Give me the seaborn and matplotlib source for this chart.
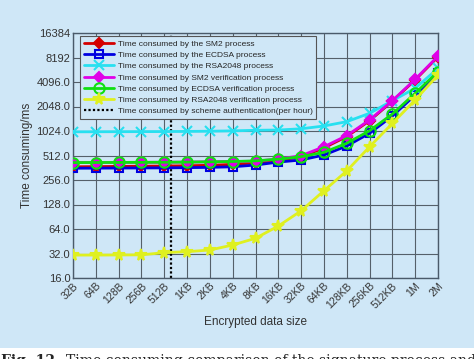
import matplotlib
matplotlib.use("Agg")
import matplotlib.pyplot as plt
import seaborn as sns
import numpy as np
import pandas as pd
from matplotlib.patches import Rectangle

categories = ["32B", "64B", "128B", "256B", "512B", "1KB", "2KB", "4KB", "8KB",
              "16KB", "32KB", "64KB", "128KB", "256KB", "512KB", "1M", "2M"]

sm2_sign = [372, 374, 376, 378, 380, 383, 388, 398, 415, 448, 492, 635, 875, 1370, 2380, 4350, 8350]
ecdsa_sign = [357, 358, 359, 360, 361, 363, 366, 372, 391, 425, 451, 519, 670, 960, 1565, 2835, 5250]
rsa_sign = [1000, 1002, 1004, 1006, 1008, 1012, 1018, 1028, 1045, 1053, 1090, 1180, 1333, 1690, 2415, 3430, 6030]
sm2_verify = [419, 420, 421, 422, 423, 425, 428, 432, 435, 464, 509, 656, 898, 1400, 2415, 4420, 8530]
ecdsa_verify = [419, 420, 421, 422, 423, 425, 428, 432, 440, 462, 495, 560, 724, 1032, 1655, 2980, 5480]
rsa_verify = [30.6, 30.6, 30.7, 30.8, 32.8, 33.7, 35.3, 40.7, 49.2, 69.6, 107, 189, 331, 656, 1270, 2465, 5000]
scheme_auth_x = 4.28

y_ticks = [16, 32, 64, 128, 256, 512, 1024, 2048, 4096, 8192, 16384]
y_ticklabels = ["16.0", "32.0", "64.0", "128.0", "256.0", "512.0", "1024.0",
                "2048.0", "4096.0", "8192", "16384"]

series = [
    ("Time consumed by the SM2 process", sm2_sign, "#d40000", "D", 5.5, True),
    ("Time consumed by the ECDSA process", ecdsa_sign, "#0000e0", "s", 5.5, False),
    ("Time consumed by the RSA2048 process", rsa_sign, "#28e0f0", "x", 6.5, True),
    ("Time consumed by SM2 verification process", sm2_verify, "#e000e8", "D", 5.5, True),
    ("Time consumed by ECDSA verification process", ecdsa_verify, "#10e010", "o", 7.5, False),
    ("Time consumed by RSA2048 verification process", rsa_verify, "#dff020", "*", 8.5, True),
]

bg = "#cfe7f7"
sns.set_theme(style="whitegrid")
plt.rcParams["font.family"] = ["Liberation Sans", "DejaVu Sans"]

fig = plt.figure(figsize=(4.74, 3.59), dpi=100, facecolor="white")
fig.patches.append(Rectangle((0, 11 / 359), 1, 1, transform=fig.transFigure,
                             facecolor=bg, edgecolor="none", zorder=-10))
ax = fig.add_axes([73 / 474, 1 - 278 / 359, (438 - 73) / 474, (278 - 33) / 359])
ax.set_facecolor(bg)

x = np.arange(len(categories))
for i, (label, vals, color, marker, ms, filled) in enumerate(series):
    df = pd.DataFrame({"x": x, "y": vals})
    kw = dict(marker=marker, markersize=ms, markeredgecolor=color, markeredgewidth=1.5)
    if marker != "x":
        kw["markerfacecolor"] = color if filled else "none"
    sns.lineplot(data=df, x="x", y="y", ax=ax, color=color, linewidth=2,
                 label=label, zorder=3 + i, **kw)

ax.axvline(scheme_auth_x, color="black", linestyle=(0, (1, 1)), linewidth=1.6,
           label="Time consumed by scheme authentication(per hour)", zorder=2)

ax.set_yscale("log", base=2)
ax.set_ylim(16, 16384)
ax.set_xlim(0, len(categories) - 1)
ax.set_yticks(y_ticks)
ax.set_yticklabels(y_ticklabels, fontsize=8, color="#333333")
ax.minorticks_off()
ax.set_xticks(x)
ax.set_xticklabels(categories, rotation=45, ha="right", rotation_mode="anchor",
                   fontsize=7.5, color="#333333")
ax.tick_params(axis="both", length=3, width=0.8, color="#4a5a6a", pad=2, direction="in")
ax.grid(True, color="#55606a", linewidth=0.8)
for s in ax.spines.values():
    s.set_color("#4a5a6a")
    s.set_linewidth(1.0)

ax.set_xlabel("Encrypted data size", fontsize=8.5, color="#333333", labelpad=4)
ax.set_ylabel("Time consuming/ms", fontsize=8.5, color="#333333")
ax.yaxis.set_label_coords(-0.11, 0.5)

leg = ax.legend(loc="upper left", bbox_to_anchor=(0.019, 0.986), fontsize=6.0,
                frameon=True, fancybox=False, facecolor=bg, edgecolor="#555555",
                framealpha=1, handlelength=3.6, borderpad=0.45, labelspacing=0.4,
                handletextpad=0.5, borderaxespad=0)
leg.get_frame().set_linewidth(0.8)
leg.set_zorder(20)

fig.text(0.003, -9 / 359, "Fig. 12", fontsize=10, fontweight="bold",
         family="DejaVu Serif", va="bottom", ha="left")
fig.text(0.14, -9 / 359, "Time consuming comparison of the signature process and verification process",
         fontsize=10, family="DejaVu Serif", va="bottom", ha="left")

fig.savefig("out.png", dpi=100, facecolor="white")
